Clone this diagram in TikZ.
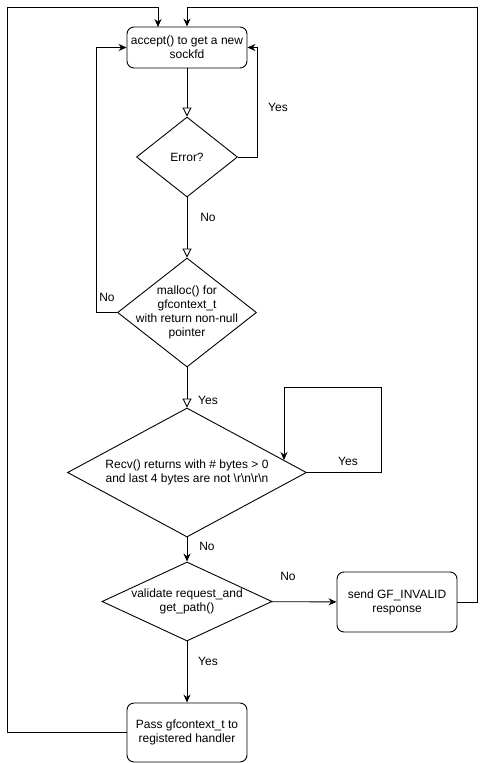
\documentclass[tikz,border=0pt]{standalone}
\usepackage{fontspec}
\setmainfont{Liberation Sans}
\usetikzlibrary{arrows.meta, positioning, shapes.geometric}

\begin{document}
\begin{tikzpicture}[
  x=1pt, y=-1pt,
  line width=0.9pt,
  every node/.style={font=\fontsize{12}{14}\selectfont},
  procbox/.style={rectangle, draw, rounded corners=7pt, minimum width=120pt, align=center, inner sep=0pt},
  decision/.style={diamond, draw, inner sep=0pt},
  dtext/.style={align=center, inner sep=0pt},
  lbl/.style={inner sep=0pt},
  openarr/.style={-{Triangle[open, length=9pt, width=9pt]}},
  fillarr/.style={-{Stealth[length=8pt, width=7pt]}},
]
\useasboundingbox (0,0) rectangle (486,763);

% main column
\node[procbox, minimum height=41pt] (accept) at (187,47.5) {accept() to get a new\\sockfd};
\node[decision, minimum width=101pt, minimum height=80pt] (error) at (187,157) {};
\node[dtext] (errortxt) at (error.center) {Error?};
\node[decision, minimum width=139pt, minimum height=109pt] (malloc) at (187,312.5) {};
\node[dtext] (malloctxt) at (malloc.center) {malloc() for\\gfcontext\_t\\with return non-null\\pointer};
\node[decision, minimum width=239pt, minimum height=129pt] (recv) at (187,472.5) {};
\node[dtext] (recvtxt) at (recv.center) {Recv() returns with \# bytes \textgreater{} 0\\and last 4 bytes are not \textbackslash r\textbackslash n\textbackslash r\textbackslash n};
\node[decision, minimum width=170pt, minimum height=79pt] (valid) at (187,601.5) {};
\node[dtext] (validtxt) at (valid.center) {validate request\_and\\get\_path()};
\node[procbox, minimum height=60pt] (send) at (397,602) {send GF\_INVALID\\response};
\node[procbox, minimum height=59pt] (pass) at (187,732.5) {Pass gfcontext\_t to\\registered handler};

% corners of the loops
\coordinate (topl) at (7,7);
\coordinate (topr) at (477,7);
\coordinate (acceptin) at (158,27);
\coordinate (recvloop) at (381,387);
\coordinate (recvin) at (284,460);

% forward flow
\draw[openarr] (accept) -- (error);
\draw[openarr] (error) -- (malloc);
\draw[openarr] (malloc) -- (recv);
\draw[fillarr] (recv) -- (valid);
\draw[fillarr] (valid) -- (pass);
\draw[fillarr] (valid) -- (send);

% loops back
\draw[fillarr] (error.east) -- ++(19,0) |- (accept.east);
\draw[fillarr] (malloc.west) -- ++(-21,0) |- (accept.west);
\draw[fillarr] (recv.east) -| (recvloop) -| (recvin);
\draw[fillarr] (send.east) -| (topr) -| (accept.north);
\draw[fillarr] (pass.west) -| (topl) -| (acceptin);

% labels
\node[lbl] (yes1) at (278,107) {Yes};
\node[lbl] (no1) at (208,217) {No};
\node[lbl] (no2) at (107,297) {No};
\node[lbl] (yes2) at (208,400) {Yes};
\node[lbl] (yes3) at (348,461) {Yes};
\node[lbl] (no3) at (207,546) {No};
\node[lbl] (no4) at (288,576) {No};
\node[lbl] (yes4) at (208,661) {Yes};

\end{tikzpicture}
\end{document}
